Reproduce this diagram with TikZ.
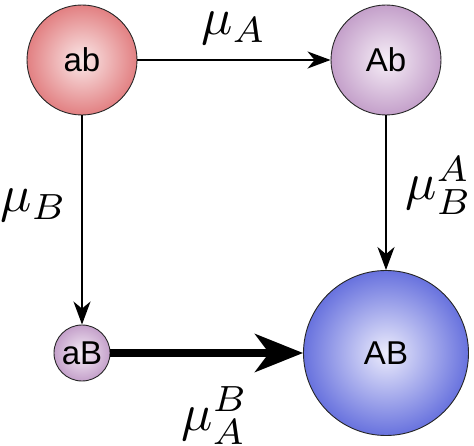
\documentclass[tikz,border=0pt]{standalone}
\usepackage{fontspec}
\setsansfont{Liberation Sans}
\usetikzlibrary{arrows.meta}
\definecolor{redE}{RGB}{226,128,130}
\definecolor{redI}{RGB}{250,232,232}
\definecolor{lavE}{RGB}{196,160,202}
\definecolor{lavI}{RGB}{246,238,247}
\definecolor{bluE}{RGB}{104,114,222}
\definecolor{bluI}{RGB}{236,236,252}
\newcommand{\RateLabel}[1]{\scalebox{5.2}{$#1$}}
\tikzset{
  state/.style={circle, draw=black!85, line width=0.9pt, inner sep=0pt,
    font=\sffamily\fontsize{33}{38}\selectfont, shading=radial},
  thinarrow/.style={line width=1.8pt, -{Stealth[length=23pt,width=17pt,inset=7pt]}},
  thickarrow/.style={line width=7.5pt, -{Stealth[length=48pt,width=38pt,inset=14pt]}},
  mlabel/.style={inner sep=0pt, anchor=base west},
}
\begin{document}
\begin{tikzpicture}[x=1pt,y=-1pt]
\useasboundingbox (0,0) rectangle (474,446);
\node[state, minimum size=110pt, inner color=redI, outer color=redE] (nab) at (82,60) {ab};
\node[state, minimum size=110pt, inner color=lavI, outer color=lavE] (nAb) at (386,60) {Ab};
\node[state, minimum size=56pt, inner color=lavI, outer color=lavE] (naB) at (82,353) {aB};
\node[state, minimum size=165pt, inner color=bluI, outer color=bluE] (nAB) at (386,353) {AB};
\draw[thinarrow] (nab) -- (nAb);
\draw[thinarrow] (nab) -- (naB);
\draw[thinarrow] (nAb) -- (nAB);
\draw[thickarrow] (naB) -- (nAB);
\node[mlabel] (lA) at (201,35) {\RateLabel{\mu_A}};
\node[mlabel] (lB) at (0,212) {\RateLabel{\mu_B}};
\node[mlabel] (lBA) at (405,200) {\RateLabel{\mu_B^A}};
\node[mlabel] (lAB) at (181,430) {\RateLabel{\mu_A^B}};
\end{tikzpicture}
\end{document}
